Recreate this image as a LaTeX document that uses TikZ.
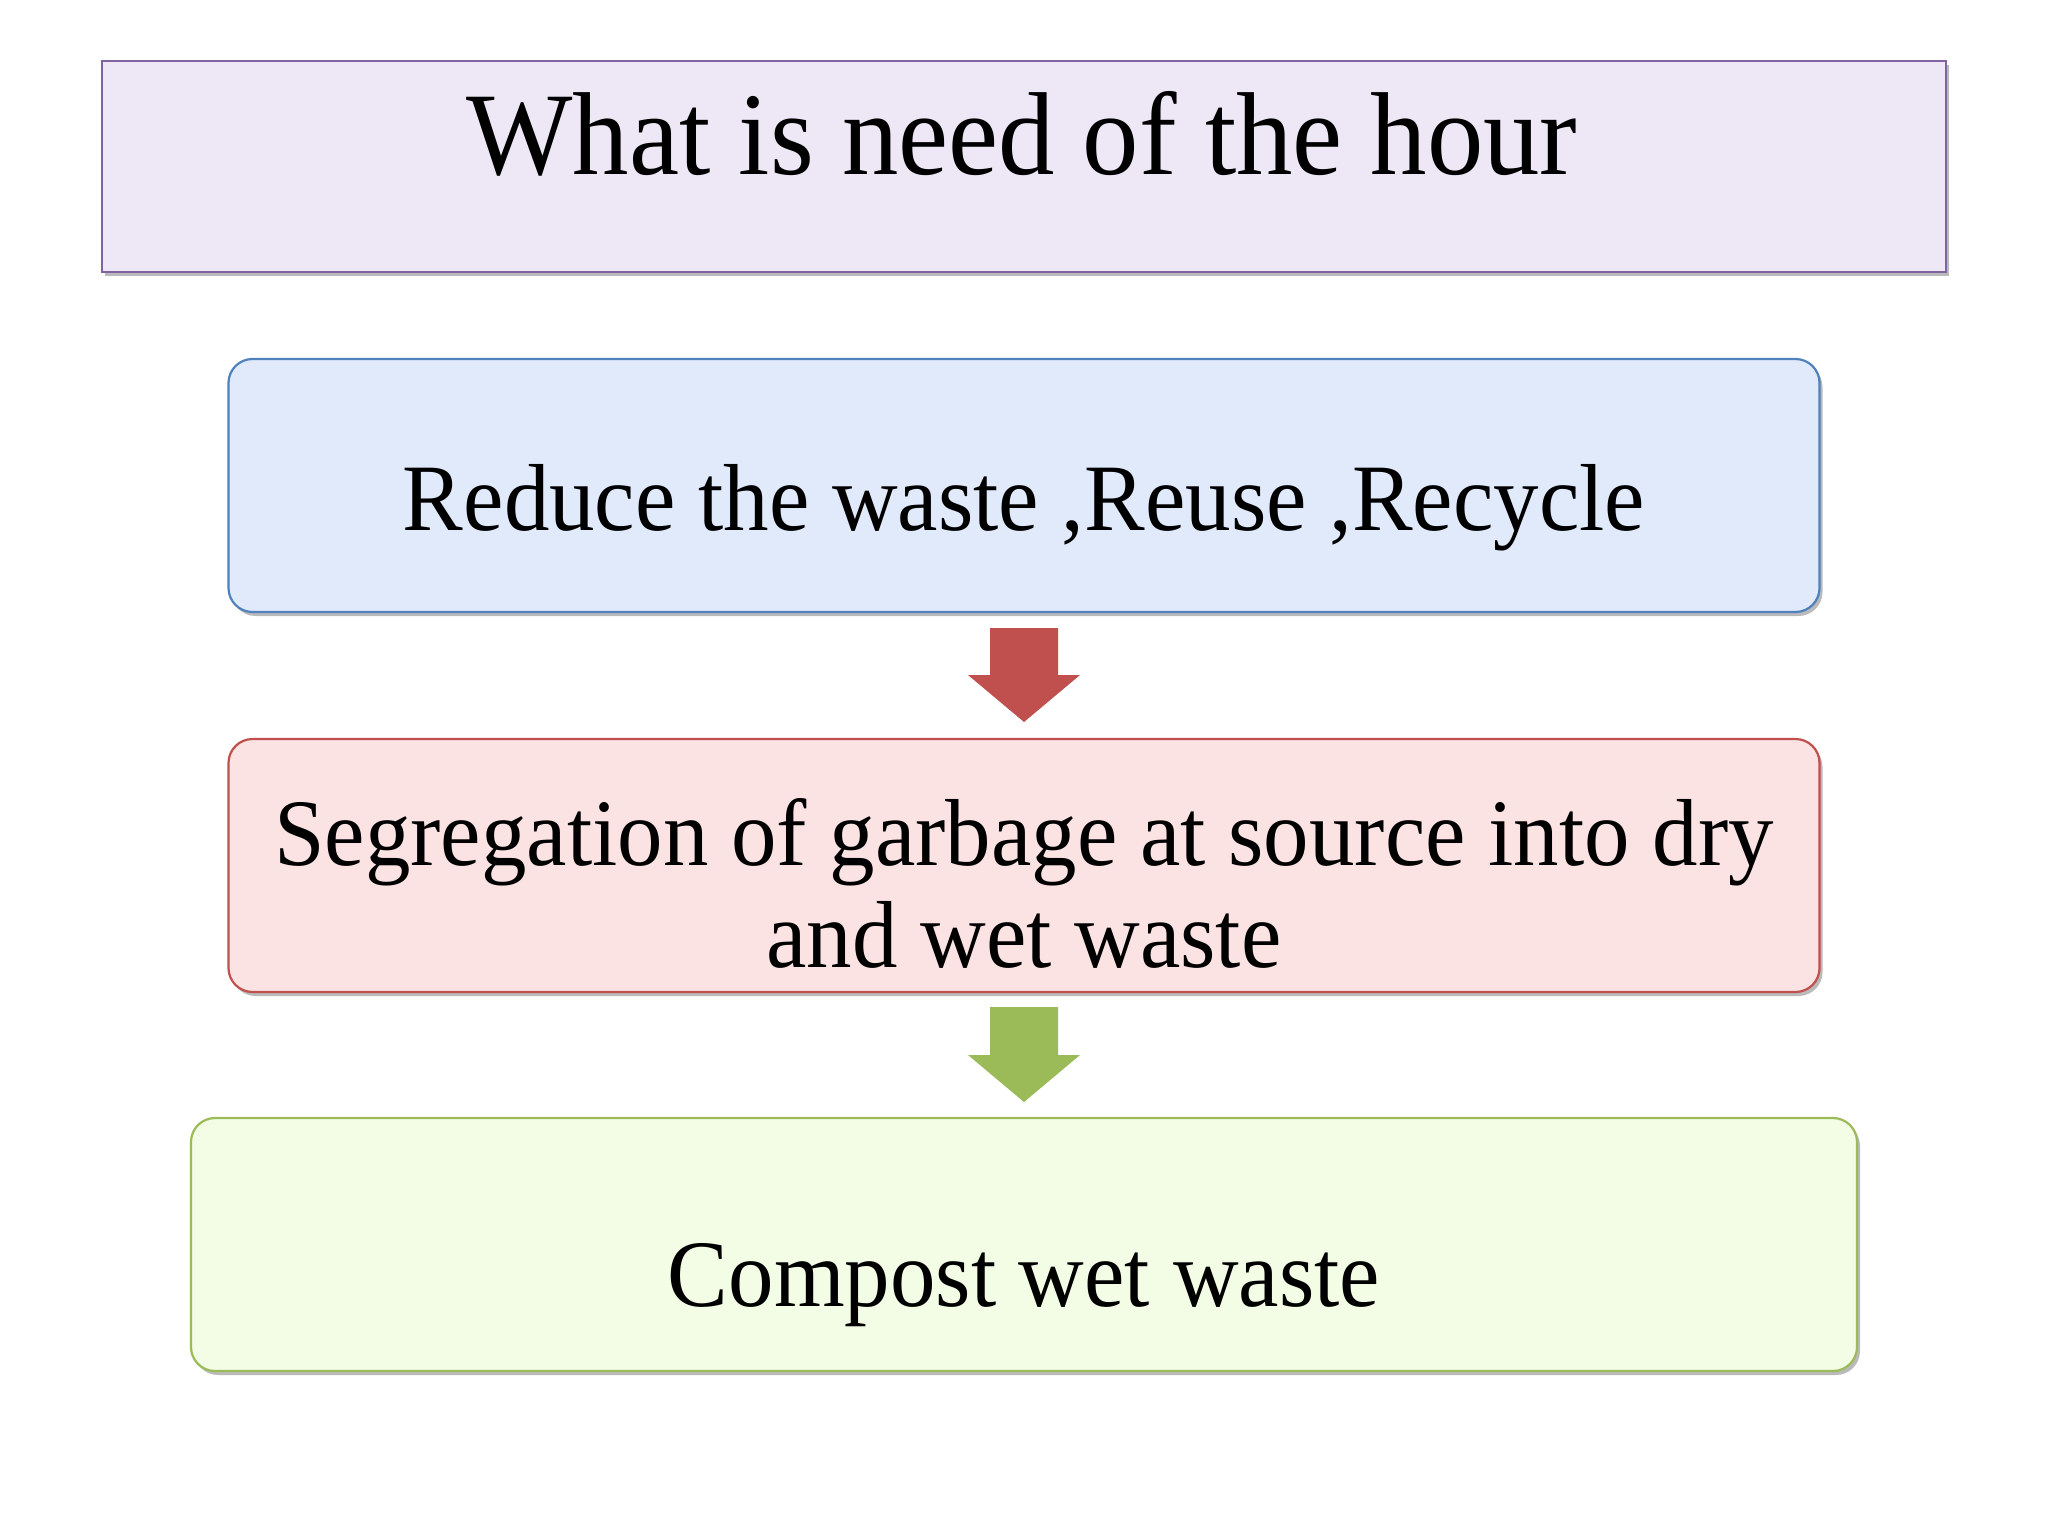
\documentclass[tikz,border=0pt]{standalone}
\usepackage{fontspec}
\setmainfont[FakeStretch=0.955]{Liberation Serif}
\usetikzlibrary{shadows}
\definecolor{titlefill}{HTML}{EEE8F6}
\definecolor{titledraw}{HTML}{8064A2}
\definecolor{bluefill}{HTML}{E1EAFB}
\definecolor{bluedraw}{HTML}{4F81BD}
\definecolor{redfill}{HTML}{FCE3E3}
\definecolor{reddraw}{HTML}{C0504D}
\definecolor{greenfill}{HTML}{F3FDE5}
\definecolor{greendraw}{HTML}{9BBB59}
\tikzset{
  boxbase/.style={draw, line width=1.1pt, inner sep=0pt, outer sep=0pt,
    drop shadow={shadow xshift=1.5pt, shadow yshift=-2pt, fill=black!45, opacity=0.6}},
  bigtext/.style={anchor=base, inner sep=0pt, font=\fontsize{47.6}{51}\selectfont},
  titletext/.style={anchor=base, inner sep=0pt, font=\fontsize{59}{66}\selectfont}
}
\begin{document}
\begin{tikzpicture}[x=0.5pt,y=-0.5pt]
\useasboundingbox[fill=white] (0,0) rectangle (2048,1536);
% title
\node[boxbase, fill=titlefill, draw=titledraw, minimum width=922pt, minimum height=105.5pt] (title) at (1024,166.5) {};
\node[titletext] (titlet) at (1022,174) {What is need of the hour};
% box 1
\node[boxbase, fill=bluefill, draw=bluedraw, rounded corners=12pt, minimum width=795.5pt, minimum height=126.5pt] (b1) at (1024,485.5) {};
\node[bigtext] (b1t) at (1024,530) {Reduce the waste ,Reuse ,Recycle};
% box 2
\node[boxbase, fill=redfill, draw=reddraw, rounded corners=12pt, minimum width=795.5pt, minimum height=126.5pt] (b2) at (1024,865.5) {};
\node[bigtext] (b2t) at (1024,865) {Segregation of garbage at source into dry};
\node[bigtext] (b2u) at (1024,967) {and wet waste};
% box 3
\node[boxbase, fill=greenfill, draw=greendraw, rounded corners=12pt, minimum width=833pt, minimum height=126.5pt] (b3) at (1024,1244.5) {};
\node[bigtext] (b3t) at (1024,1306) {Compost wet waste};
% arrows
\fill[reddraw] (990,628) -- (1058,628) -- (1058,675) -- (1080,675) -- (1024,722) -- (968,675) -- (990,675) -- cycle;
\fill[greendraw] (990,1007) -- (1058,1007) -- (1058,1055) -- (1080,1055) -- (1024,1102) -- (968,1055) -- (990,1055) -- cycle;
\end{tikzpicture}
\end{document}
